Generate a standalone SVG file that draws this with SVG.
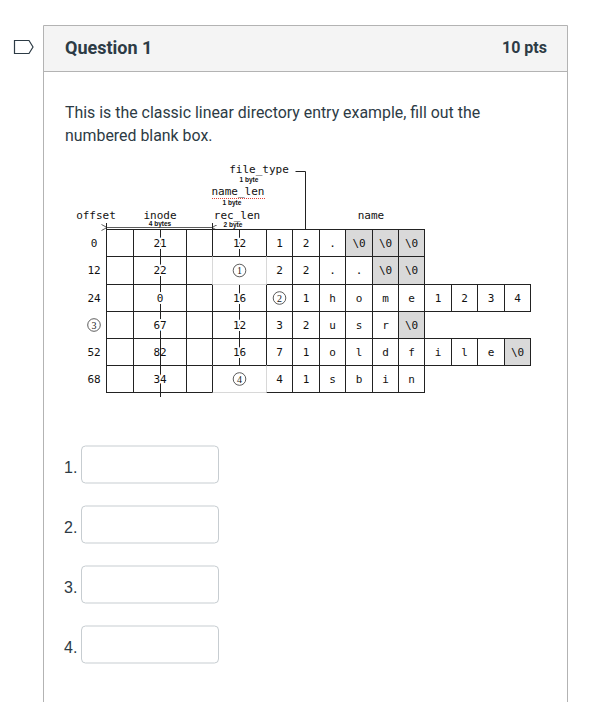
<svg xmlns="http://www.w3.org/2000/svg" width="599" height="702" viewBox="0 0 599 702">
<defs>
<style>
.ui{font-family:Roboto,"Liberation Sans",sans-serif;fill:#2d3b45}
.mono{font-family:"DejaVu Sans Mono","Liberation Mono",monospace;font-size:11px;fill:#111;text-anchor:middle}
.tiny{font-family:"Liberation Sans",Arial,sans-serif;font-size:6.5px;font-weight:bold;fill:#111;text-anchor:middle}
.cell{fill:#fff;stroke:#222;stroke-width:1}
.gray{fill:#d9d9d9;stroke:#222;stroke-width:1}
.halo{stroke:#fff;stroke-width:4;paint-order:stroke;stroke-linejoin:round}
.circ{fill:#fff;stroke:#333;stroke-width:0.8}
.cnum{font-family:"Liberation Serif","DejaVu Serif",serif;font-size:10px;fill:#222;text-anchor:middle}
.box{fill:#fff;stroke:#c7cdd1;stroke-width:1}
.lbl{font-family:"Liberation Sans",Arial,sans-serif;font-size:16px;fill:#2d3b45}
</style>
<marker id="ah" markerWidth="7" markerHeight="7" refX="0.5" refY="3" orient="auto-start-reverse" markerUnits="userSpaceOnUse">
<path d="M6,0 L0.5,3 L6,6" fill="none" stroke="#333" stroke-width="0.8"/>
</marker>
</defs>
<rect width="599" height="702" fill="#fff"/>

<g id="card">
<path d="M43.5,702 V25.5 H567.5 V702" fill="#fff" stroke="#b3b3b3"/>
<rect x="44" y="26" width="523" height="45" fill="#f4f4f4"/>
<line x1="43.5" y1="71.5" x2="567.5" y2="71.5" stroke="#b3b3b3"/>
<path d="M14.5,40.5 H29 L33,47 L29,53.5 H14.5 Z" fill="none" stroke="#2d3b45" stroke-width="1.2"/>
<text class="ui" x="65" y="54" font-size="18" font-weight="700">Question 1</text>
<text class="ui" x="547" y="53" font-size="16" font-weight="700" text-anchor="end" fill="#4a4a4a">10 pts</text>
<text class="ui" x="65" y="118" font-size="15.9">This is the classic linear directory entry example, fill out the</text>
<text class="ui" x="65" y="141" font-size="15.9">numbered blank box.</text>
</g>

<g id="headers">
<text class="mono" x="96" y="219">offset</text>
<text class="mono" x="160" y="218.5">inode</text>
<text class="tiny" x="160" y="226">4 bytes</text>
<text class="mono" x="237" y="218.5">rec_len</text>
<text class="tiny" x="233" y="227">2 byte</text>
<text class="mono" x="238" y="195">name_len</text>
<line x1="212" y1="198.5" x2="265" y2="198.5" stroke="#e0403a" stroke-width="1" stroke-dasharray="1,1"/>
<text class="tiny" x="232" y="205">1 byte</text>
<text class="mono" x="259" y="172.5">file_type</text>
<text class="tiny" x="249" y="181.5">1 byte</text>
<text class="mono" x="371" y="219">name</text>
</g>

<g id="connectors" stroke="#222" stroke-width="1" fill="none">
<polyline points="295.5,171.5 305.5,171.5 305.5,229.5"/>
<line x1="107" y1="227.5" x2="212" y2="227.5" stroke="#333" stroke-width="0.8" marker-start="url(#ah)" marker-end="url(#ah)"/>
<line x1="106.5" y1="223" x2="106.5" y2="230"/>
<line x1="212.5" y1="223" x2="212.5" y2="230"/>
</g>

<g id="table">
<g id="row0">
<rect class="cell" x="106.5" y="229.5" width="27" height="27"/>
<rect class="cell" x="133.5" y="229.5" width="53" height="27"/>
<rect class="cell" x="186.5" y="229.5" width="26" height="27"/>
<rect class="cell" x="212.5" y="229.5" width="54" height="27"/>
<rect class="cell" x="266.5" y="229.5" width="26" height="27"/>
<rect class="cell" x="292.5" y="229.5" width="27" height="27"/>
<rect class="cell" x="319.5" y="229.5" width="26" height="27"/>
<rect class="gray" x="345.5" y="229.5" width="27" height="27"/>
<rect class="gray" x="372.5" y="229.5" width="26" height="27"/>
<rect class="gray" x="398.5" y="229.5" width="26" height="27"/>
</g>
<g id="row1">
<rect class="cell" x="106.5" y="256.5" width="27" height="28"/>
<rect class="cell" x="133.5" y="256.5" width="53" height="28"/>
<rect class="cell" x="186.5" y="256.5" width="26" height="28"/>
<rect class="cell" x="212.5" y="256.5" width="54" height="28"/>
<rect class="cell" x="266.5" y="256.5" width="26" height="28"/>
<rect class="cell" x="292.5" y="256.5" width="27" height="28"/>
<rect class="cell" x="319.5" y="256.5" width="26" height="28"/>
<rect class="cell" x="345.5" y="256.5" width="27" height="28"/>
<rect class="gray" x="372.5" y="256.5" width="26" height="28"/>
<rect class="gray" x="398.5" y="256.5" width="26" height="28"/>
</g>
<g id="row2">
<rect class="cell" x="106.5" y="284.5" width="27" height="27"/>
<rect class="cell" x="133.5" y="284.5" width="53" height="27"/>
<rect class="cell" x="186.5" y="284.5" width="26" height="27"/>
<rect class="cell" x="212.5" y="284.5" width="54" height="27"/>
<rect class="cell" x="266.5" y="284.5" width="26" height="27"/>
<rect class="cell" x="292.5" y="284.5" width="27" height="27"/>
<rect class="cell" x="319.5" y="284.5" width="26" height="27"/>
<rect class="cell" x="345.5" y="284.5" width="27" height="27"/>
<rect class="cell" x="372.5" y="284.5" width="26" height="27"/>
<rect class="cell" x="398.5" y="284.5" width="26" height="27"/>
<rect class="cell" x="424.5" y="284.5" width="27" height="27"/>
<rect class="cell" x="451.5" y="284.5" width="26" height="27"/>
<rect class="cell" x="477.5" y="284.5" width="27" height="27"/>
<rect class="cell" x="504.5" y="284.5" width="26" height="27"/>
</g>
<g id="row3">
<rect class="cell" x="106.5" y="311.5" width="27" height="27"/>
<rect class="cell" x="133.5" y="311.5" width="53" height="27"/>
<rect class="cell" x="186.5" y="311.5" width="26" height="27"/>
<rect class="cell" x="212.5" y="311.5" width="54" height="27"/>
<rect class="cell" x="266.5" y="311.5" width="26" height="27"/>
<rect class="cell" x="292.5" y="311.5" width="27" height="27"/>
<rect class="cell" x="319.5" y="311.5" width="26" height="27"/>
<rect class="cell" x="345.5" y="311.5" width="27" height="27"/>
<rect class="cell" x="372.5" y="311.5" width="26" height="27"/>
<rect class="gray" x="398.5" y="311.5" width="26" height="27"/>
</g>
<g id="row4">
<rect class="cell" x="106.5" y="338.5" width="27" height="27"/>
<rect class="cell" x="133.5" y="338.5" width="53" height="27"/>
<rect class="cell" x="186.5" y="338.5" width="26" height="27"/>
<rect class="cell" x="212.5" y="338.5" width="54" height="27"/>
<rect class="cell" x="266.5" y="338.5" width="26" height="27"/>
<rect class="cell" x="292.5" y="338.5" width="27" height="27"/>
<rect class="cell" x="319.5" y="338.5" width="26" height="27"/>
<rect class="cell" x="345.5" y="338.5" width="27" height="27"/>
<rect class="cell" x="372.5" y="338.5" width="26" height="27"/>
<rect class="cell" x="398.5" y="338.5" width="26" height="27"/>
<rect class="cell" x="424.5" y="338.5" width="27" height="27"/>
<rect class="cell" x="451.5" y="338.5" width="26" height="27"/>
<rect class="cell" x="477.5" y="338.5" width="27" height="27"/>
<rect class="gray" x="504.5" y="338.5" width="26" height="27"/>
</g>
<g id="row5">
<rect class="cell" x="106.5" y="365.5" width="27" height="27"/>
<rect class="cell" x="133.5" y="365.5" width="53" height="27"/>
<rect class="cell" x="186.5" y="365.5" width="26" height="27"/>
<rect class="cell" x="212.5" y="365.5" width="54" height="27"/>
<rect class="cell" x="266.5" y="365.5" width="26" height="27"/>
<rect class="cell" x="292.5" y="365.5" width="27" height="27"/>
<rect class="cell" x="319.5" y="365.5" width="26" height="27"/>
<rect class="cell" x="345.5" y="365.5" width="27" height="27"/>
<rect class="cell" x="372.5" y="365.5" width="26" height="27"/>
<rect class="cell" x="398.5" y="365.5" width="26" height="27"/>
</g>
<line x1="160.5" y1="229.5" x2="160.5" y2="397" stroke="#222"/>
<line x1="239.5" y1="229.5" x2="239.5" y2="392.5" stroke="#222"/>
<path d="M213,257 H266 V284 H213 Z" fill="#fff"/>
<path d="M212.5,256.5 V284.5 H266.5 V256.5" fill="none" stroke="#d8d8d8"/>
<path d="M213,366 H266 V392 H213 Z" fill="#fff"/>
<path d="M212.5,365.5 V392.5 H266.5 V365.5" fill="none" stroke="#d8d8d8"/>
<line x1="212.5" y1="365.5" x2="212.5" y2="392.5" stroke="#222"/>

<g id="offsets">
<text class="mono" x="94" y="247">0</text>
<text class="mono" x="94" y="274">12</text>
<text class="mono" x="94" y="302">24</text>
<circle class="circ" cx="94" cy="325" r="6.3"/><text class="cnum" x="94" y="328.5">3</text>
<text class="mono" x="94" y="356">52</text>
<text class="mono" x="94" y="383">68</text>
</g>
<g id="inode-vals">
<text class="mono halo" x="160" y="247">21</text>
<text class="mono halo" x="160" y="274">22</text>
<text class="mono halo" x="160" y="302">0</text>
<text class="mono halo" x="160" y="329">67</text>
<text class="mono" x="160" y="356">82</text>
<text class="mono halo" x="160" y="383">34</text>
</g>
<g id="reclen-vals">
<text class="mono halo" x="239.5" y="247">12</text>
<circle class="circ" cx="239.5" cy="270.5" r="6.3"/><text class="cnum" x="239.5" y="274">1</text>
<text class="mono halo" x="239.5" y="302">16</text>
<text class="mono halo" x="239.5" y="329">12</text>
<text class="mono halo" x="239.5" y="356">16</text>
<circle class="circ" cx="239.5" cy="379" r="6.3"/><text class="cnum" x="239.5" y="382.5">4</text>
</g>
<g id="namelen-vals">
<text class="mono" x="279.5" y="247">1</text>
<text class="mono" x="279.5" y="274">2</text>
<circle class="circ" cx="279.5" cy="298" r="6.3"/><text class="cnum" x="279.5" y="301.5">2</text>
<text class="mono" x="279.5" y="329">3</text>
<text class="mono" x="279.5" y="356">7</text>
<text class="mono" x="279.5" y="383">4</text>
</g>
<g id="filetype-vals">
<text class="mono" x="306" y="247">2</text>
<text class="mono" x="306" y="274">2</text>
<text class="mono" x="306" y="302">1</text>
<text class="mono" x="306" y="329">2</text>
<text class="mono" x="306" y="356">1</text>
<text class="mono" x="306" y="383">1</text>
</g>
<g id="name-vals">
<text class="mono" x="332.5" y="247">.</text>
<text class="mono" x="359" y="247">\0</text>
<text class="mono" x="385.5" y="247">\0</text>
<text class="mono" x="411.5" y="247">\0</text>
<text class="mono" x="332.5" y="274">.</text>
<text class="mono" x="359" y="274">.</text>
<text class="mono" x="385.5" y="274">\0</text>
<text class="mono" x="411.5" y="274">\0</text>
<text class="mono" x="332.5" y="302">h</text>
<text class="mono" x="359" y="302">o</text>
<text class="mono" x="385.5" y="302">m</text>
<text class="mono" x="411.5" y="302">e</text>
<text class="mono" x="438" y="302">1</text>
<text class="mono" x="464.5" y="302">2</text>
<text class="mono" x="491" y="302">3</text>
<text class="mono" x="517.5" y="302">4</text>
<text class="mono" x="332.5" y="329">u</text>
<text class="mono" x="359" y="329">s</text>
<text class="mono" x="385.5" y="329">r</text>
<text class="mono" x="411.5" y="329">\0</text>
<text class="mono" x="332.5" y="356">o</text>
<text class="mono" x="359" y="356">l</text>
<text class="mono" x="385.5" y="356">d</text>
<text class="mono" x="411.5" y="356">f</text>
<text class="mono" x="438" y="356">i</text>
<text class="mono" x="464.5" y="356">l</text>
<text class="mono" x="491" y="356">e</text>
<text class="mono" x="517.5" y="356">\0</text>
<text class="mono" x="332.5" y="383">s</text>
<text class="mono" x="359" y="383">b</text>
<text class="mono" x="385.5" y="383">i</text>
<text class="mono" x="411.5" y="383">n</text>
</g>
</g>

<g id="answers">
<g id="a1"><text class="lbl" x="64" y="473">1.</text><rect class="box" x="81.5" y="446" width="137" height="37" rx="4"/></g>
<g id="a2"><text class="lbl" x="64" y="533">2.</text><rect class="box" x="81.5" y="506" width="137" height="37" rx="4"/></g>
<g id="a3"><text class="lbl" x="64" y="593">3.</text><rect class="box" x="81.5" y="566" width="137" height="37" rx="4"/></g>
<g id="a4"><text class="lbl" x="64" y="653">4.</text><rect class="box" x="81.5" y="626" width="137" height="37" rx="4"/></g>
</g>
</svg>
